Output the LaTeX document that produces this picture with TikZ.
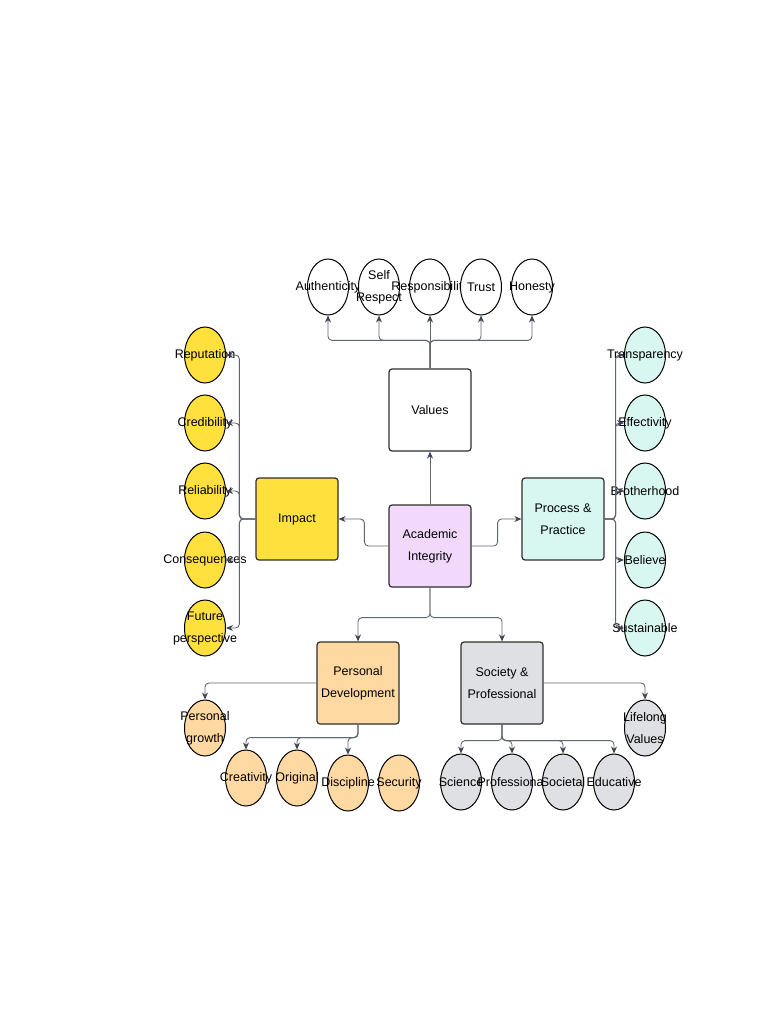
\documentclass[tikz,border=0pt]{standalone}
\usepackage{fontspec}
\setmainfont{Liberation Sans}
\usetikzlibrary{shapes.geometric,arrows.meta}
\definecolor{cyel}{HTML}{FFE03D}
\definecolor{ccyan}{HTML}{D8F7F1}
\definecolor{clav}{HTML}{F2D9FC}
\definecolor{cpeach}{HTML}{FFD9A1}
\definecolor{cgray}{HTML}{DEE0E3}
\definecolor{cline}{HTML}{5F6670}
\definecolor{ctip}{HTML}{3F454E}
\definecolor{cborder}{HTML}{2E2E2E}
\tikzset{
  box/.style={draw=cborder, line width=1.2pt, rounded corners=3pt, minimum width=82pt, minimum height=82pt, align=center, inner sep=2pt, font=\fontsize{12.5}{22}\selectfont},
  bub/.style={ellipse, draw=black, line width=1pt, minimum width=41pt, minimum height=56pt, inner sep=0pt},
  lab/.style={label={[align=center, font=\fontsize{12.5}{22}\selectfont]center:#1}},
  arr/.style={draw=cline, line width=0.9pt, rounded corners=4pt, -{Stealth[length=7pt,width=6pt,color=ctip]}}
}
\begin{document}
\begin{tikzpicture}[x=1pt,y=-1pt]
\useasboundingbox (0,0) rectangle (768,1024);
% main boxes
\node[box, fill=white] (val) at (430,410) {Values};
\node[box, fill=clav] (ai) at (430,546) {Academic\\Integrity};
\node[box, fill=cyel] (imp) at (297,519) {Impact};
\node[box, fill=ccyan] (pp) at (563,519) {Process \&\\Practice};
\node[box, fill=cpeach] (pd) at (358,683) {Personal\\Development};
\node[box, fill=cgray] (sp) at (502,683) {Society \&\\Professional};
% values circles
\node[bub, fill=white, lab=Authenticity] (v1) at (328,287) {};
\node[bub, fill=white, lab={Self\\Respect}] (v2) at (379,287) {};
\node[bub, fill=white, lab=Responsibility] (v3) at (430,287) {};
\node[bub, fill=white, lab=Trust] (v4) at (481,287) {};
\node[bub, fill=white, lab=Honesty] (v5) at (532,287) {};
% impact circles
\node[bub, fill=cyel, lab=Reputation] (i1) at (205,355) {};
\node[bub, fill=cyel, lab=Credibility] (i2) at (205,423) {};
\node[bub, fill=cyel, lab=Reliability] (i3) at (205,491) {};
\node[bub, fill=cyel, lab=Consequences] (i4) at (205,560) {};
\node[bub, fill=cyel, lab={Future\\perspective}] (i5) at (205,628) {};
% process circles
\node[bub, fill=ccyan, lab=Transparency] (p1) at (645,355) {};
\node[bub, fill=ccyan, lab=Effectivity] (p2) at (645,423) {};
\node[bub, fill=ccyan, lab=Brotherhood] (p3) at (645,491) {};
\node[bub, fill=ccyan, lab=Believe] (p4) at (645,560) {};
\node[bub, fill=ccyan, lab=Sustainable] (p5) at (645,628) {};
% personal development circles
\node[bub, fill=cpeach, lab={Personal\\growth}] (g) at (205,728) {};
\node[bub, fill=cpeach, lab=Creativity] (c1) at (246,778) {};
\node[bub, fill=cpeach, lab=Original] (c2) at (297,778) {};
\node[bub, fill=cpeach, lab=Discipline] (c3) at (348,783) {};
\node[bub, fill=cpeach, lab=Security] (c4) at (399,783) {};
% society circles
\node[bub, fill=cgray, lab={Lifelong\\Values}] (lv) at (645,728) {};
\node[bub, fill=cgray, lab=Science] (s1) at (461,782) {};
\node[bub, fill=cgray, lab=Professional] (s2) at (512,782) {};
\node[bub, fill=cgray, lab=Societal] (s3) at (563,782) {};
\node[bub, fill=cgray, lab=Educative] (s4) at (614,782) {};
% connectors
\draw[arr] (ai.north) -- (val.south);
\draw[arr] (ai.west) -- ++(-24,0) |- (imp.east);
\draw[arr] (ai.east) -- ++(26,0) |- (pp.west);
\draw[arr] (ai.south) -- ++(0,30) -| (pd.north);
\draw[arr] (ai.south) -- ++(0,30) -| (sp.north);
\foreach \v in {v1,v2,v4,v5} \draw[arr] (val.north) -- ++(0,-28) -| (\v.south);
\draw[arr] (val.north) -- (v3.south);
\foreach \v in {i1,i2,i3,i4,i5} \draw[arr] (imp.west) -- ++(-16,0) |- (\v.east);
\foreach \v in {p1,p2,p3,p4,p5} \draw[arr] (pp.east) -- ++(11,0) |- (\v.west);
\draw[arr] (pd.west) -| (g.north);
\foreach \v in {c1,c2,c3} \draw[arr] (pd.south) -- ++(0,13) -| (\v.north);
\draw[arr] (sp.east) -| (lv.north);
\foreach \v in {s1,s2,s3,s4} \draw[arr] (sp.south) -- ++(0,16) -| (\v.north);
\end{tikzpicture}
\end{document}
